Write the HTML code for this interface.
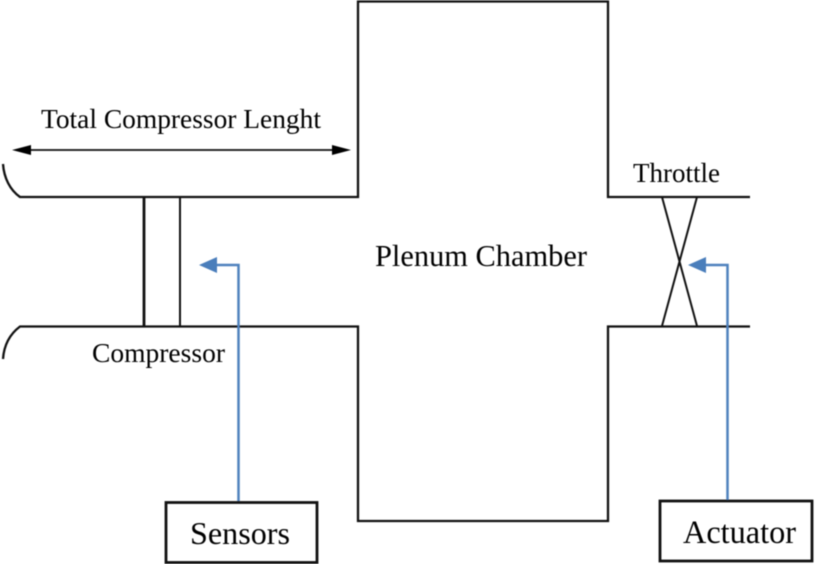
<!DOCTYPE html>
<html>
<head>
<meta charset="utf-8">
<style>
html,body{margin:0;padding:0;background:#fff;width:824px;height:564px;overflow:hidden}
svg{display:block;filter:blur(0.45px)}
text{font-family:"Liberation Serif",serif;fill:#000}
</style>
</head>
<body>
<svg width="824" height="564" viewBox="0 0 824 564" xmlns="http://www.w3.org/2000/svg">
<g fill="none" stroke="#111" stroke-width="2.300">
<path d="M3 164C4 178 10 190 20 197H358V1.500H608V197H750" />
<path d="M3 359C4 345 10 334 20 326.500H358V521H608V326.500H750" />
<path d="M144 197V326" stroke-width="2.800"/>
<path d="M180 197V326" stroke-width="2"/>
<path d="M662 197L697 326M697 197L662 326" stroke-width="2"/>
<path d="M24 150H340" stroke-width="1.800"/>
<rect x="166" y="502.500" width="151" height="60" stroke-width="2.800"/>
<rect x="660" y="501" width="152" height="60" stroke-width="2.800"/>
</g>
<path d="M12 150L31 145V155Z M351 150L332 145V155Z" fill="#000"/>
<g fill="none" stroke="#4f81bd" stroke-width="2.500">
<path d="M238.500 501V265H215"/>
<path d="M727.500 500V265H704"/>
</g>
<path d="M199 265L217 257V273Z M688 265L706 257V273Z" fill="#4a7ebb"/>
<text x="41" y="128" font-size="27.200" textLength="280" lengthAdjust="spacingAndGlyphs">Total Compressor Lenght</text>
<text x="92" y="362" font-size="27.500" textLength="133" lengthAdjust="spacingAndGlyphs">Compressor</text>
<text x="633" y="182" font-size="27" textLength="87" lengthAdjust="spacingAndGlyphs">Throttle</text>
<text x="375" y="266" font-size="30.400" textLength="212" lengthAdjust="spacingAndGlyphs">Plenum Chamber</text>
<text x="190" y="544" font-size="32" textLength="100" lengthAdjust="spacingAndGlyphs">Sensors</text>
<text x="683" y="543" font-size="32.300" textLength="113" lengthAdjust="spacingAndGlyphs">Actuator</text>
</svg>
</body>
</html>
